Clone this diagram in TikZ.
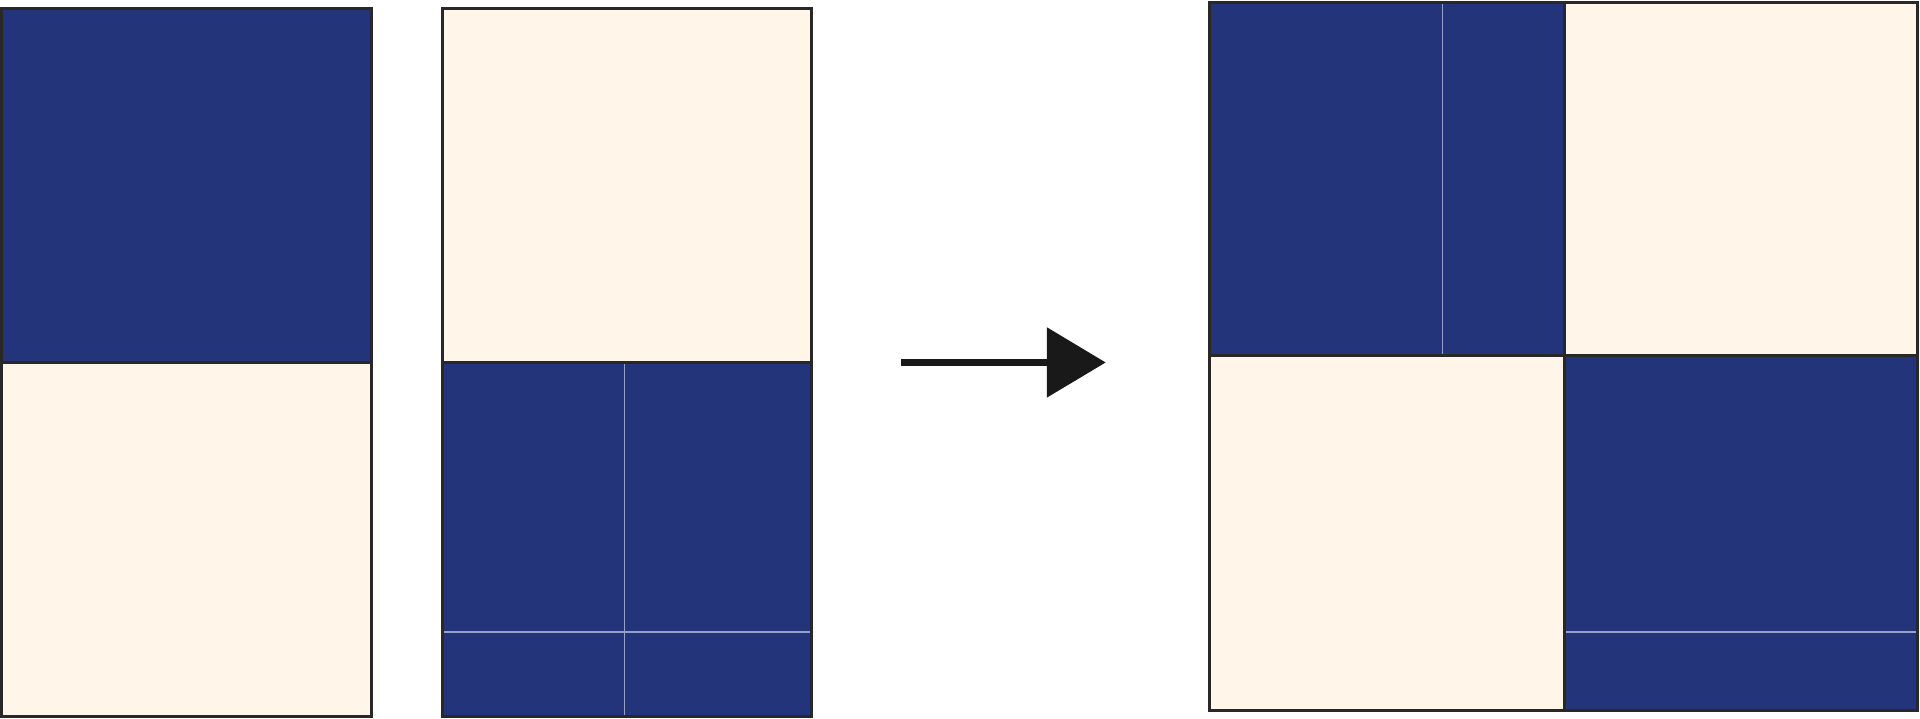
\documentclass[tikz,border=0pt]{standalone}
\usepackage{tikz}
\usetikzlibrary{arrows.meta}
\definecolor{navy}{RGB}{36,52,122}
\definecolor{cream}{RGB}{255,245,232}
\definecolor{seam}{RGB}{150,160,205}
\definecolor{edge}{RGB}{40,40,40}
\tikzset{
	navypatch/.style={fill=navy},
	creampatch/.style={fill=cream},
	seamline/.style={draw=seam,line width=0.35pt},
	blockedge/.style={draw=edge,line width=0.7pt},
}

\begin{document}
\begin{tikzpicture}[x=0.01cm,y=-0.01cm]
			\useasboundingbox (0,0) rectangle (1568,587);
			\fill[white] (0,0) rectangle (1568,587);

			\fill[navypatch] (1,7) rectangle (303,296);
			\fill[creampatch] (1,296) rectangle (303,585);
			\draw[blockedge] (1,7) rectangle (303,585);
			\draw[blockedge] (1,296) -- (303,296);

			\fill[creampatch] (361,7) rectangle (663,296);
			\fill[navypatch] (361,296) rectangle (663,585);
			\draw[seamline] (510,296) -- (510,585);
			\draw[seamline] (361,516) -- (663,516);
			\draw[blockedge] (361,7) rectangle (663,585);
			\draw[blockedge] (361,296) -- (663,296);

			\coordinate (arrowstart) at (736,296);
			\coordinate (arrowend) at (903,296);
			\draw[line width=1.6pt,color=black!90,-{Triangle[length=0.48cm,width=0.56cm]}] (arrowstart) -- (arrowend);

			\fill[navypatch] (988,2) rectangle (1278,290);
			\fill[creampatch] (1278,2) rectangle (1566,290);
			\fill[creampatch] (988,290) rectangle (1278,580);
			\fill[navypatch] (1278,290) rectangle (1566,580);
			\draw[seamline] (1178,2) -- (1178,290);
			\draw[seamline] (1278,516) -- (1566,516);
			\draw[blockedge] (988,2) rectangle (1566,580);
			\draw[blockedge] (988,290) -- (1566,290);
			\draw[blockedge] (1278,2) -- (1278,580);
		\end{tikzpicture}
\end{document}
